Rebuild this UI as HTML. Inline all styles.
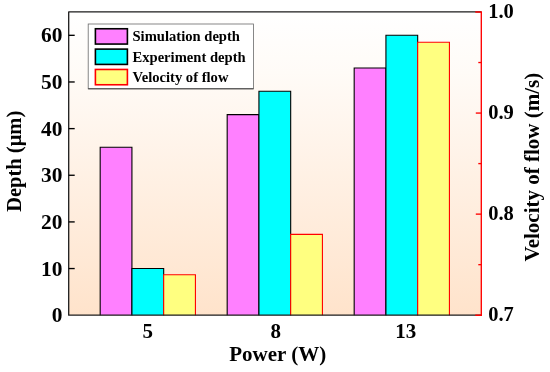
<!DOCTYPE html>
<html><head><meta charset="utf-8"><title>chart</title>
<style>
html,body{margin:0;padding:0;background:#fff;}
body{width:550px;height:372px;overflow:hidden;}
svg{display:block;}
text{font-family:"Liberation Serif","Times New Roman",serif;font-weight:bold;fill:#000;}
</style></head><body>
<svg xmlns="http://www.w3.org/2000/svg" width="550" height="372" viewBox="0 0 550 372">
<defs><linearGradient id="bg" x1="0" y1="0" x2="0" y2="1"><stop offset="0" stop-color="#ffffff"/><stop offset="0.2" stop-color="#fffbf7"/><stop offset="1" stop-color="#ffe3cb"/></linearGradient></defs>
<rect x="0" y="0" width="550" height="372" fill="#fff"/>
<rect x="68.7" y="12.0" width="412.6" height="303.2" fill="url(#bg)"/>
<rect x="100.18" y="147.27" width="31.75" height="167.93" fill="#ff80ff"/>
<path d="M100.18 315.2V147.27H131.93V315.2" fill="none" stroke="#000" stroke-width="1.1"/>
<rect x="131.93" y="268.55" width="31.75" height="46.65" fill="#00ffff"/>
<path d="M131.93 315.2V268.55H163.68V315.2" fill="none" stroke="#000" stroke-width="1.1"/>
<rect x="163.68" y="274.77" width="31.75" height="40.43" fill="#ffff80"/>
<path d="M163.68 315.2V274.77H195.43V315.2" fill="none" stroke="#ff0000" stroke-width="1.1"/>
<rect x="227.18" y="114.62" width="31.75" height="200.58" fill="#ff80ff"/>
<path d="M227.18 315.2V114.62H258.93V315.2" fill="none" stroke="#000" stroke-width="1.1"/>
<rect x="258.93" y="91.30" width="31.75" height="223.90" fill="#00ffff"/>
<path d="M258.93 315.2V91.30H290.68V315.2" fill="none" stroke="#000" stroke-width="1.1"/>
<rect x="290.68" y="234.35" width="31.75" height="80.85" fill="#ffff80"/>
<path d="M290.68 315.2V234.35H322.43V315.2" fill="none" stroke="#ff0000" stroke-width="1.1"/>
<rect x="354.18" y="67.98" width="31.75" height="247.22" fill="#ff80ff"/>
<path d="M354.18 315.2V67.98H385.93V315.2" fill="none" stroke="#000" stroke-width="1.1"/>
<rect x="385.93" y="35.32" width="31.75" height="279.88" fill="#00ffff"/>
<path d="M385.93 315.2V35.32H417.68V315.2" fill="none" stroke="#000" stroke-width="1.1"/>
<rect x="417.68" y="42.32" width="31.75" height="272.88" fill="#ffff80"/>
<path d="M417.68 315.2V42.32H449.43V315.2" fill="none" stroke="#ff0000" stroke-width="1.1"/>
<path d="M481.3 11.9H68.7V315.2H481.3" fill="none" stroke="#1c1c1c" stroke-width="1.3" stroke-linejoin="round"/>
<path d="M475.3 12.0H481.3V315.2H475.3" fill="none" stroke="#ff0000" stroke-width="1.35" stroke-linejoin="miter"/>
<text transform="translate(62.4,322.20) scale(1.045,0.985)" font-size="20.5" text-anchor="end">0</text>
<path d="M68.7 268.55h6" stroke="#000" stroke-width="1.35"/>
<text transform="translate(62.4,275.55) scale(1.045,0.985)" font-size="20.5" text-anchor="end">10</text>
<path d="M68.7 221.91h6" stroke="#000" stroke-width="1.35"/>
<text transform="translate(62.4,228.91) scale(1.045,0.985)" font-size="20.5" text-anchor="end">20</text>
<path d="M68.7 175.26h6" stroke="#000" stroke-width="1.35"/>
<text transform="translate(62.4,182.26) scale(1.045,0.985)" font-size="20.5" text-anchor="end">30</text>
<path d="M68.7 128.62h6" stroke="#000" stroke-width="1.35"/>
<text transform="translate(62.4,135.62) scale(1.045,0.985)" font-size="20.5" text-anchor="end">40</text>
<path d="M68.7 81.97h6" stroke="#000" stroke-width="1.35"/>
<text transform="translate(62.4,88.97) scale(1.045,0.985)" font-size="20.5" text-anchor="end">50</text>
<path d="M68.7 35.32h6" stroke="#000" stroke-width="1.35"/>
<text transform="translate(62.4,42.32) scale(1.045,0.985)" font-size="20.5" text-anchor="end">60</text>
<text x="488.2" y="17.80" font-size="20.5" text-anchor="start">1.0</text>
<path d="M481.3 62.53h-3" stroke="#ff0000" stroke-width="1.35"/>
<path d="M481.3 113.07h-5.5" stroke="#ff0000" stroke-width="1.35"/>
<text x="488.2" y="118.87" font-size="20.5" text-anchor="start">0.9</text>
<path d="M481.3 163.60h-3" stroke="#ff0000" stroke-width="1.35"/>
<path d="M481.3 214.13h-5.5" stroke="#ff0000" stroke-width="1.35"/>
<text x="488.2" y="219.93" font-size="20.5" text-anchor="start">0.8</text>
<path d="M481.3 264.67h-3" stroke="#ff0000" stroke-width="1.35"/>
<text x="488.2" y="321.00" font-size="20.5" text-anchor="start">0.7</text>
<text x="147.70" y="337.6" font-size="21" text-anchor="middle">5</text>
<text x="275.80" y="337.6" font-size="21" text-anchor="middle">8</text>
<text x="405.80" y="337.6" font-size="21" text-anchor="middle">13</text>
<text x="277.8" y="361.3" font-size="21" text-anchor="middle">Power (W)</text>
<text transform="translate(21,161.3) rotate(-90)" font-size="20.5" text-anchor="middle">Depth (μm)</text>
<text transform="translate(538.7,167.2) rotate(-90)" font-size="21" text-anchor="middle">Velocity of flow (m/s)</text>
<rect x="88.2" y="24" width="165.3" height="64.8" fill="#fff" stroke="#6a6a6a" stroke-width="0.8"/><path d="M88.2 88.8H253.5" stroke="#444" stroke-width="1"/>
<rect x="95.4" y="28.76" width="32" height="15.3" fill="#ff80ff" stroke="#000" stroke-width="1.6"/>
<text x="132.5" y="41.16" font-size="14.6">Simulation depth</text>
<rect x="95.4" y="49.11" width="32" height="15.3" fill="#00ffff" stroke="#000" stroke-width="1.6"/>
<text x="132.5" y="61.51" font-size="14.6">Experiment depth</text>
<rect x="95.4" y="69.46" width="32" height="15.3" fill="#ffff80" stroke="#ff0000" stroke-width="1.6"/>
<text x="132.5" y="81.86" font-size="14.6">Velocity of flow</text>
</svg></body></html>
